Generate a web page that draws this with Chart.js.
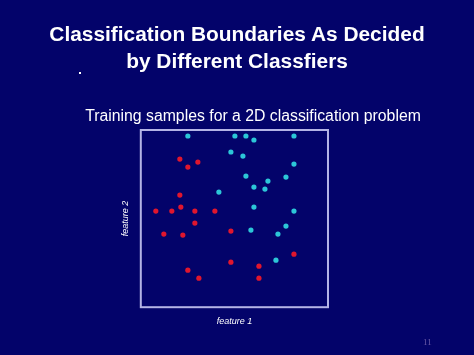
<!DOCTYPE html>
<html>
<head>
<meta charset="utf-8">
<script src="https://cdn.jsdelivr.net/npm/chart.js@4"></script>
<style>
  html, body { margin: 0; padding: 0; background: #03036a; overflow: hidden; }
  #wrap { position: relative; width: 474px; height: 355px; }
  #chart { position: absolute; left: 0; top: 0; }
  .t { position: absolute; left: 0; width: 474px; text-align: center; color: #fff;
       font-family: "Liberation Sans", Arial, sans-serif; white-space: nowrap; }
  #title { top: 20px; font-weight: bold; font-size: 20.9px; line-height: 27px; }
  #sub { top: 107px; left: 16px; font-size: 15.8px; }
  #dot { position: absolute; left: 79px; top: 72px; width: 2px; height: 2px; background: #fff; }
  #page { position: absolute; left: 423px; top: 337px; color: #6a5aa8; font-size: 9px;
          font-family: "Liberation Serif", serif; }
</style>
</head>
<body>
<div id="wrap">
  <canvas id="chart" width="474" height="355"></canvas>
  <div class="t" id="title">Classification Boundaries As Decided<br>by Different Classfiers</div>
  <div id="dot"></div>
  <div class="t" id="sub">Training samples for a 2D classification problem</div>
  <div id="page">11</div>
</div>
<script>
// sample positions, feature 1 (x) and feature 2 (y)
var cyanX = [47, 94, 105, 113, 153, 90, 102, 153, 105, 127, 145, 113, 124, 78, 113, 153, 110, 145, 137, 135];
var cyanY = [171, 171, 171, 167, 171, 155, 151, 143, 131, 126, 130, 120, 118, 115, 100, 96, 77, 81, 73, 47];
var redX = [39, 57, 47, 39, 40, 15, 31, 54, 74, 54, 23, 42, 90, 153, 90, 118, 47, 58, 118];
var redY = [148, 145, 140, 112, 100, 96, 96, 96, 96, 84, 73, 72, 76, 53, 45, 41, 37, 29, 29];

function toPoints(xs, ys) {
  return xs.map(function (x, i) { return { x: x, y: ys[i] }; });
}

var boxPlugin = {
  id: "box",
  afterDraw: function (chart) {
    var a = chart.chartArea;
    var ctx = chart.ctx;
    ctx.save();
    ctx.strokeStyle = "#b4b4e6";
    ctx.lineWidth = 2;
    ctx.strokeRect(a.left, a.top, a.right - a.left, a.bottom - a.top);
    ctx.restore();
  }
};

var ctx = document.getElementById("chart").getContext("2d");
var myChart = new Chart(ctx, {
  type: "scatter",
  data: {
    datasets: [
      {
        label: "class 1",
        data: toPoints(cyanX, cyanY),
        backgroundColor: "#2cc6d8",
        borderWidth: 0,
        pointRadius: 2.6,
      },
      {
        label: "class 2",
        data: toPoints(redX, redY),
        backgroundColor: "#e0162e",
        borderWidth: 0,
        pointRadius: 2.6,
      },
    ],
  },
  options: {
    responsive: false,
    animation: false,
    events: [],
    layout: { padding: { left: 120, top: 130, right: 146, bottom: 28 } },
    plugins: { legend: { display: false }, tooltip: { enabled: false } },
    scales: {
      x: {
        min: 0,
        max: 187,
        grid: { display: false },
        border: { display: false },
        ticks: { display: false },
        title: {
          display: true,
          text: "feature 1",
          color: "#ffffff",
          font: { family: "Liberation Sans", size: 9, style: "italic" },
          padding: { top: 1, bottom: 0 },
        },
      },
      y: {
        min: 0,
        max: 177,
        grid: { display: false },
        border: { display: false },
        ticks: { display: false },
        title: {
          display: true,
          text: "feature 2",
          color: "#ffffff",
          font: { family: "Liberation Sans", size: 9, style: "italic" },
          padding: { top: 0, bottom: 2 },
        },
      },
    },
  },
  plugins: [boxPlugin],
});
</script>
</body>
</html>
